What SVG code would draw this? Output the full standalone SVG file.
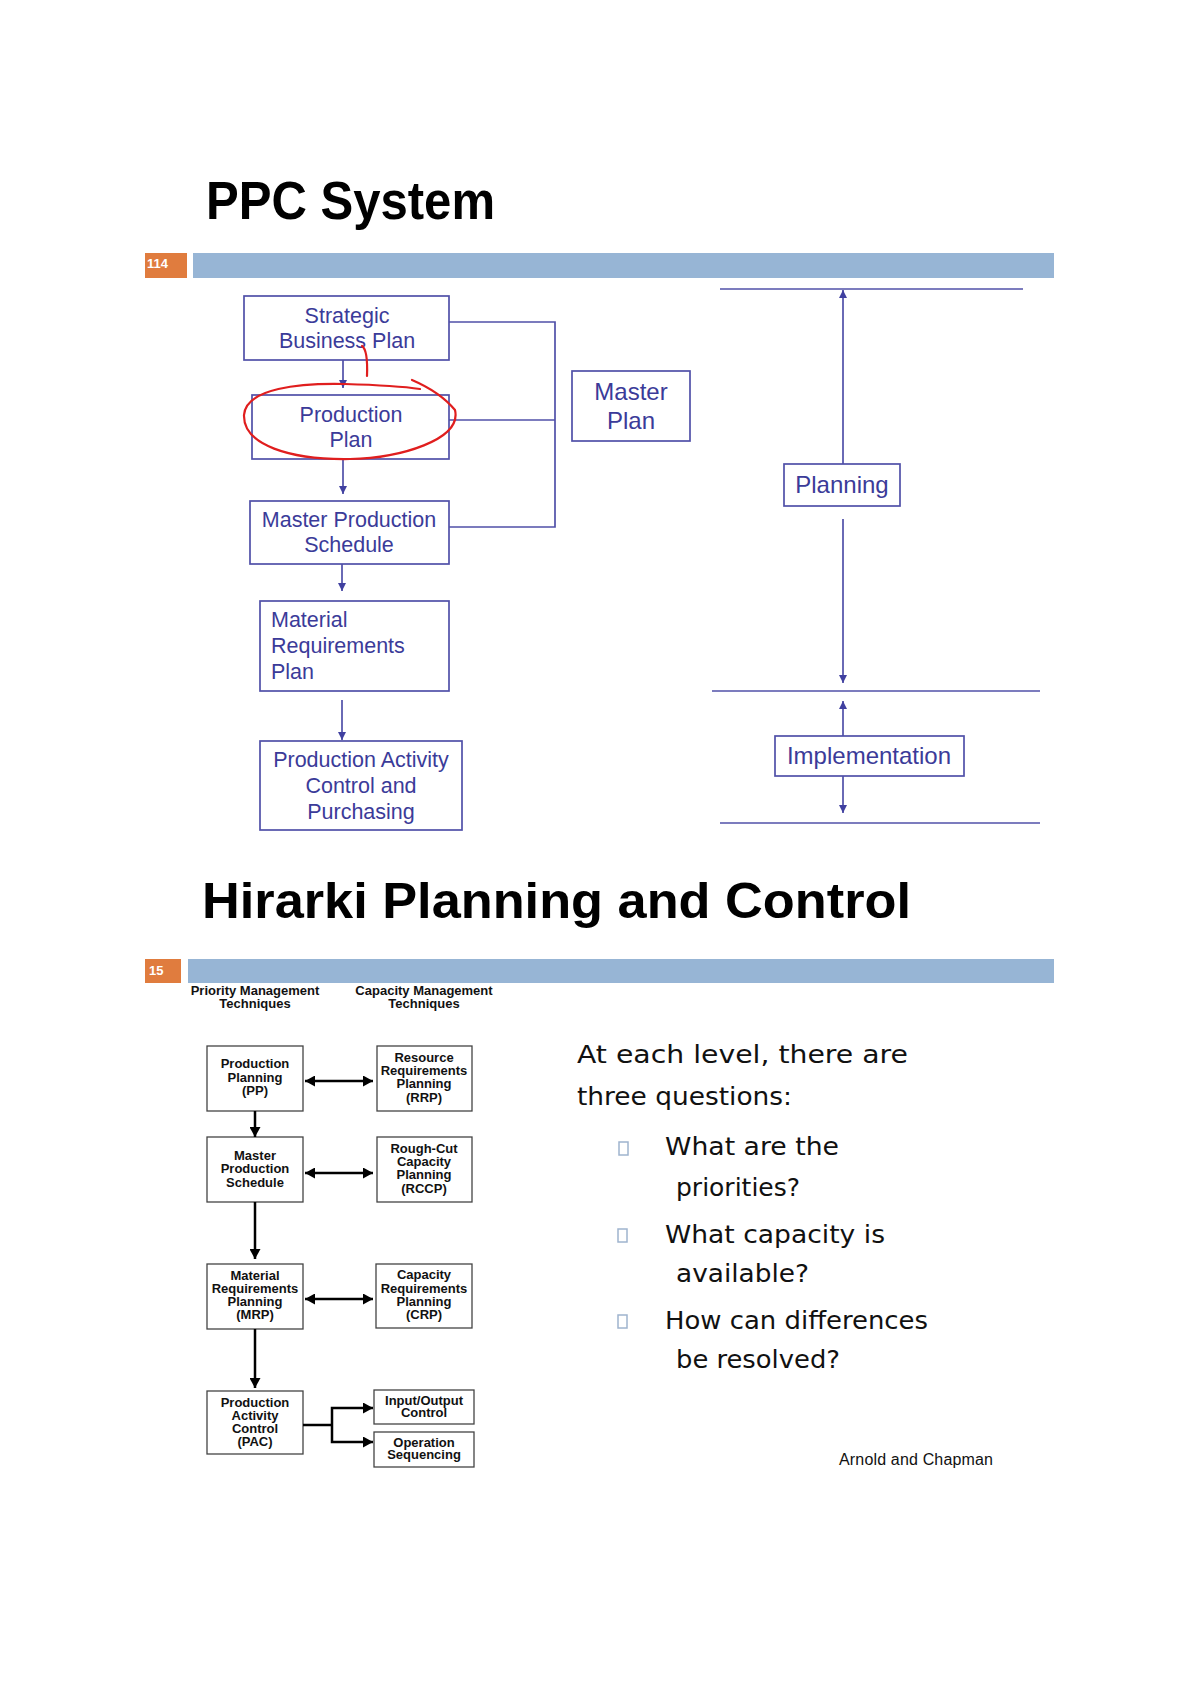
<svg xmlns="http://www.w3.org/2000/svg" width="1200" height="1696" viewBox="0 0 1200 1696">
<style>
.title{font-family:"Liberation Sans",Arial,sans-serif;font-weight:bold;fill:#000}
.num{font-family:"Liberation Sans",Arial,sans-serif;font-weight:bold;fill:#fff}
.bt{fill:#fff;stroke:#5050A8;stroke-width:1.7}
.tt{font-family:"Liberation Sans",Arial,sans-serif;font-size:21.5px;fill:#3B3B99}
.tl{font-family:"Liberation Sans",Arial,sans-serif;font-size:24px;fill:#3B3B99;text-anchor:middle}
.c{text-anchor:middle}
.ln{stroke:#5050A8;stroke-width:1.7;fill:none}
.lna{stroke:#5050A8;stroke-width:1.7;fill:none;marker-end:url(#mb)}
.bb{fill:#fff;stroke:#444;stroke-width:1.3}
.lt{font-family:"Liberation Sans",Arial,sans-serif;font-size:13px;font-weight:bold;fill:#111;text-anchor:middle}
.ka{stroke:#000;stroke-width:2.5;fill:none;marker-end:url(#mk)}
.kd{stroke:#000;stroke-width:2.5;fill:none;marker-end:url(#mk);marker-start:url(#mk)}
.q{font-family:"DejaVu Sans","Liberation Sans",sans-serif;font-size:25px;fill:#111}
.bul{fill:none;stroke:#9FB4CE;stroke-width:1.5}
.red{fill:none;stroke:#E01E1E;stroke-width:2.2;stroke-linecap:round}
</style>
<defs>
<marker id="mb" markerUnits="userSpaceOnUse" markerWidth="8" markerHeight="8" refX="8" refY="4" orient="auto-start-reverse"><path d="M0,0 L8,4 L0,8 z" fill="#4040A0"/></marker>
<marker id="mk" markerUnits="userSpaceOnUse" markerWidth="11" markerHeight="11" refX="10" refY="5.5" orient="auto-start-reverse"><path d="M0,0 L10,5.5 L0,11 z" fill="#000"/></marker>
</defs>
<rect width="1200" height="1696" fill="#fff"/>

<!-- Header 1 -->
<text class="title" x="206" y="219" font-size="53" textLength="289" lengthAdjust="spacingAndGlyphs">PPC System</text>
<rect x="145" y="253" width="42" height="25" fill="#E07C3E"/>
<text class="num" x="147" y="268" font-size="13">114</text>
<rect x="193" y="253" width="861" height="25" fill="#97B5D5"/>

<!-- Top diagram nodes -->
<g id="strategic"><rect class="bt" x="244" y="296" width="205" height="64"/>
<text class="tt c" x="347" y="323">Strategic</text><text class="tt c" x="347" y="348">Business Plan</text></g>
<g id="production-plan"><rect class="bt" x="252" y="395" width="197" height="64"/>
<text class="tt c" x="351" y="422">Production</text><text class="tt c" x="351" y="447">Plan</text></g>
<g id="mps"><rect class="bt" x="250" y="501" width="199" height="63"/>
<text class="tt c" x="349" y="527">Master Production</text><text class="tt c" x="349" y="552">Schedule</text></g>
<g id="mrp"><rect class="bt" x="260" y="601" width="189" height="90"/>
<text class="tt" x="271" y="627">Material</text><text class="tt" x="271" y="653">Requirements</text><text class="tt" x="271" y="679">Plan</text></g>
<g id="pac"><rect class="bt" x="260" y="741" width="202" height="89"/>
<text class="tt c" x="361" y="767">Production Activity</text><text class="tt c" x="361" y="793">Control and</text><text class="tt c" x="361" y="819">Purchasing</text></g>
<g id="master-plan"><rect class="bt" x="572" y="371" width="118" height="70"/>
<text class="tl" x="631" y="400">Master</text><text class="tl" x="631" y="429">Plan</text></g>
<g id="planning"><rect class="bt" x="784" y="464" width="116" height="42"/>
<text class="tl" x="842" y="493">Planning</text></g>
<g id="implementation"><rect class="bt" x="775" y="736" width="189" height="40"/>
<text class="tl" x="869" y="764">Implementation</text></g>

<!-- Top connectors -->
<g id="top-connectors">
<line class="lna" x1="343" y1="360" x2="343" y2="388"/>
<line class="lna" x1="343" y1="459" x2="343" y2="494"/>
<line class="lna" x1="342" y1="564" x2="342" y2="591"/>
<line class="lna" x1="342" y1="700" x2="342" y2="740"/>
<polyline class="ln" points="449,322 555,322 555,527 449,527"/>
<line class="ln" x1="449" y1="420" x2="555" y2="420"/>
<line class="ln" x1="720" y1="289" x2="1023" y2="289"/>
<line class="lna" x1="843" y1="464" x2="843" y2="290"/>
<line class="lna" x1="843" y1="519" x2="843" y2="683"/>
<line class="ln" x1="712" y1="691" x2="1040" y2="691"/>
<line class="lna" x1="843" y1="736" x2="843" y2="701"/>
<line class="lna" x1="843" y1="776" x2="843" y2="813"/>
<line class="ln" x1="720" y1="823" x2="1040" y2="823"/>
</g>

<!-- Red annotation -->
<path class="red" d="M412,380 Q440,392 455,410 C462,440 400,458 350,459 C290,460 243,445 244,415 C246,388 300,383 345,384 C380,385 400,386 420,389"/>
<path class="red" d="M362,346 Q368,350 367,376"/>

<!-- Header 2 -->
<text class="title" x="202" y="918" font-size="50" textLength="709" lengthAdjust="spacingAndGlyphs">Hirarki Planning and Control</text>
<rect x="145" y="959" width="36" height="24" fill="#E07C3E"/>
<text class="num" x="149" y="975" font-size="13">15</text>
<rect x="188" y="959" width="866" height="24" fill="#97B5D5"/>

<text class="lt" x="255" y="995">Priority Management</text>
<text class="lt" x="255" y="1008">Techniques</text>
<text class="lt" x="424" y="995">Capacity Management</text>
<text class="lt" x="424" y="1008">Techniques</text>

<!-- Lower diagram nodes -->
<g id="pp"><rect class="bb" x="207" y="1046" width="96" height="65"/>
<text class="lt" x="255" y="1068">Production</text><text class="lt" x="255" y="1082">Planning</text><text class="lt" x="255" y="1095">(PP)</text></g>
<g id="rrp"><rect class="bb" x="377" y="1046" width="95" height="65"/>
<text class="lt" x="424" y="1062">Resource</text><text class="lt" x="424" y="1075">Requirements</text><text class="lt" x="424" y="1088">Planning</text><text class="lt" x="424" y="1102">(RRP)</text></g>
<g id="mps2"><rect class="bb" x="207" y="1137" width="96" height="65"/>
<text class="lt" x="255" y="1160">Master</text><text class="lt" x="255" y="1173">Production</text><text class="lt" x="255" y="1187">Schedule</text></g>
<g id="rccp"><rect class="bb" x="377" y="1137" width="95" height="65"/>
<text class="lt" x="424" y="1153">Rough-Cut</text><text class="lt" x="424" y="1166">Capacity</text><text class="lt" x="424" y="1179">Planning</text><text class="lt" x="424" y="1193">(RCCP)</text></g>
<g id="mrp2"><rect class="bb" x="207" y="1264" width="96" height="65"/>
<text class="lt" x="255" y="1280">Material</text><text class="lt" x="255" y="1293">Requirements</text><text class="lt" x="255" y="1306">Planning</text><text class="lt" x="255" y="1319">(MRP)</text></g>
<g id="crp"><rect class="bb" x="376" y="1264" width="96" height="64"/>
<text class="lt" x="424" y="1279">Capacity</text><text class="lt" x="424" y="1293">Requirements</text><text class="lt" x="424" y="1306">Planning</text><text class="lt" x="424" y="1319">(CRP)</text></g>
<g id="pac2"><rect class="bb" x="207" y="1391" width="96" height="63"/>
<text class="lt" x="255" y="1407">Production</text><text class="lt" x="255" y="1420">Activity</text><text class="lt" x="255" y="1433">Control</text><text class="lt" x="255" y="1446">(PAC)</text></g>
<g id="io"><rect class="bb" x="374" y="1390" width="100" height="34"/>
<text class="lt" x="424" y="1405">Input/Output</text><text class="lt" x="424" y="1417">Control</text></g>
<g id="opseq"><rect class="bb" x="374" y="1432" width="100" height="35"/>
<text class="lt" x="424" y="1447">Operation</text><text class="lt" x="424" y="1459">Sequencing</text></g>

<!-- Lower connectors -->
<g id="lower-connectors">
<line class="kd" x1="305" y1="1081" x2="373" y2="1081"/>
<line class="kd" x1="305" y1="1173" x2="373" y2="1173"/>
<line class="kd" x1="305" y1="1299" x2="373" y2="1299"/>
<line class="ka" x1="255" y1="1111" x2="255" y2="1137"/>
<line class="ka" x1="255" y1="1202" x2="255" y2="1259"/>
<line class="ka" x1="255" y1="1329" x2="255" y2="1388"/>
<polyline fill="none" stroke="#000" stroke-width="2.5" points="303,1425 332,1425"/>
<polyline class="ka" points="332,1425 332,1408 373,1408"/>
<polyline class="ka" points="332,1425 332,1442 373,1442"/>
</g>

<!-- Right text -->
<text class="q" x="577" y="1063" textLength="331" lengthAdjust="spacingAndGlyphs">At each level, there are</text>
<text class="q" x="577" y="1105" textLength="215" lengthAdjust="spacingAndGlyphs">three questions:</text>
<rect class="bul" x="619" y="1142" width="9" height="13"/>
<text class="q" x="665" y="1155" textLength="174" lengthAdjust="spacingAndGlyphs">What are the</text>
<text class="q" x="676" y="1196" textLength="124" lengthAdjust="spacingAndGlyphs">priorities?</text>
<rect class="bul" x="618" y="1229" width="9" height="13"/>
<text class="q" x="665" y="1243" textLength="220" lengthAdjust="spacingAndGlyphs">What capacity is</text>
<text class="q" x="676" y="1282" textLength="133" lengthAdjust="spacingAndGlyphs">available?</text>
<rect class="bul" x="618" y="1315" width="9" height="13"/>
<text class="q" x="665" y="1329" textLength="263" lengthAdjust="spacingAndGlyphs">How can differences</text>
<text class="q" x="676" y="1368" textLength="164" lengthAdjust="spacingAndGlyphs">be resolved?</text>
<text x="839" y="1465" font-family="'Liberation Sans',Arial,sans-serif" font-size="16" fill="#111" textLength="154">Arnold and Chapman</text>
</svg>
